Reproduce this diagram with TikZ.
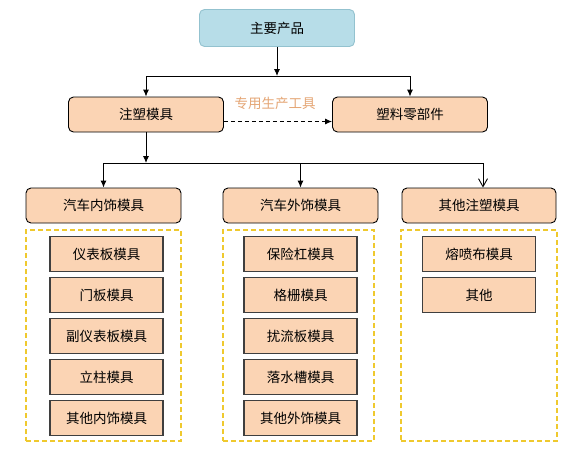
\documentclass[tikz,border=0pt]{standalone}
\usepackage{fontspec}
\setmainfont{Noto Sans CJK SC}
\usepackage{tikz}
\usetikzlibrary{positioning,arrows.meta}
\definecolor{peach}{HTML}{FBD4B4}
\definecolor{topblue}{HTML}{B7DDE8}
\definecolor{topline}{HTML}{93C2CF}
\definecolor{subline}{HTML}{3F3F3F}
\definecolor{frameyellow}{HTML}{EFC92E}
\definecolor{toolorange}{HTML}{E4A574}

\begin{document}
\begin{tikzpicture}[x=1pt,y=-1pt]
          \tikzset{BoxStyle/.style = {draw, line width=0.9pt, rounded corners=5pt, fill=peach,
                   minimum width=155pt, minimum height=35pt, font=\fontsize{13.5}{15}\selectfont}}
          \tikzset{SubStyle/.style = {draw=subline, line width=1.1pt, fill=peach,
                   minimum width=113pt, minimum height=35pt, font=\fontsize{13.5}{15}\selectfont}}
          \tikzset{FrameStyle/.style = {draw=frameyellow, line width=1.2pt, dash pattern=on 5pt off 3pt,
                   minimum width=155pt, minimum height=211pt}}
          \tikzset{EdgeStyle/.style = {-{Latex[length=7pt,width=6pt]}, line width=0.9pt}}
          \useasboundingbox (0,0) rectangle (584,459);

          \node[BoxStyle, fill=topblue, draw=topline, minimum height=37pt] (Top) at (277,28) {主要产品};
          \node[BoxStyle] (ZS) at (146,114.5) {注塑模具};
          \node[BoxStyle] (SL) at (410,114.5) {塑料零部件};
          \node[BoxStyle] (Nei) at (103.5,205.5) {汽车内饰模具};
          \node[BoxStyle] (Wai) at (300.5,205.5) {汽车外饰模具};
          \node[BoxStyle, minimum width=154pt] (QT) at (479,205.5) {其他注塑模具};
          \node[text=toolorange, font=\fontsize{13.5}{15}\selectfont] (Tool) at (275,103) {专用生产工具};

          \coordinate (J1) at (277,76);
          \coordinate (J2) at (146,163);
          \draw[EdgeStyle] (Top) -- (J1);
          \draw[EdgeStyle] (J1) -| (ZS);
          \draw[EdgeStyle] (J1) -| (SL);
          \draw[EdgeStyle, dash pattern=on 4pt off 3pt] ([yshift=-7pt]ZS.east) -- ([yshift=-7pt]SL.west);
          \draw[EdgeStyle] (ZS) -- (J2);
          \draw[EdgeStyle] (J2) -| (Nei);
          \draw[EdgeStyle] (J2) -| (Wai);
          \draw[EdgeStyle, -{Straight Barb[length=8pt,width=9pt]}] (J2) -| ([xshift=4pt]QT.north);

          % dashed frames
          \node[FrameStyle] (NeiFrame) at (103.5,335.5) {};
          \node[FrameStyle, minimum width=151pt] (WaiFrame) at (298.5,335.5) {};
          \node[FrameStyle, minimum width=156pt] (QTFrame) at (479,335.5) {};

          % inner boxes
          \node[SubStyle] (Nei1) at (106.5,254) {仪表板模具};
          \node[SubStyle, below=5pt of Nei1] (Nei2) {门板模具};
          \node[SubStyle, below=5pt of Nei2] (Nei3) {副仪表板模具};
          \node[SubStyle, below=5pt of Nei3] (Nei4) {立柱模具};
          \node[SubStyle, below=5pt of Nei4] (Nei5) {其他内饰模具};

          \node[SubStyle] (Wai1) at (300.5,254) {保险杠模具};
          \node[SubStyle, below=5pt of Wai1] (Wai2) {格栅模具};
          \node[SubStyle, below=5pt of Wai2] (Wai3) {扰流板模具};
          \node[SubStyle, below=5pt of Wai3] (Wai4) {落水槽模具};
          \node[SubStyle, below=5pt of Wai4] (Wai5) {其他外饰模具};

          \node[SubStyle] (QT1) at (479,254) {熔喷布模具};
          \node[SubStyle, below=5pt of QT1] (QT2) {其他};
        \end{tikzpicture}
\end{document}
